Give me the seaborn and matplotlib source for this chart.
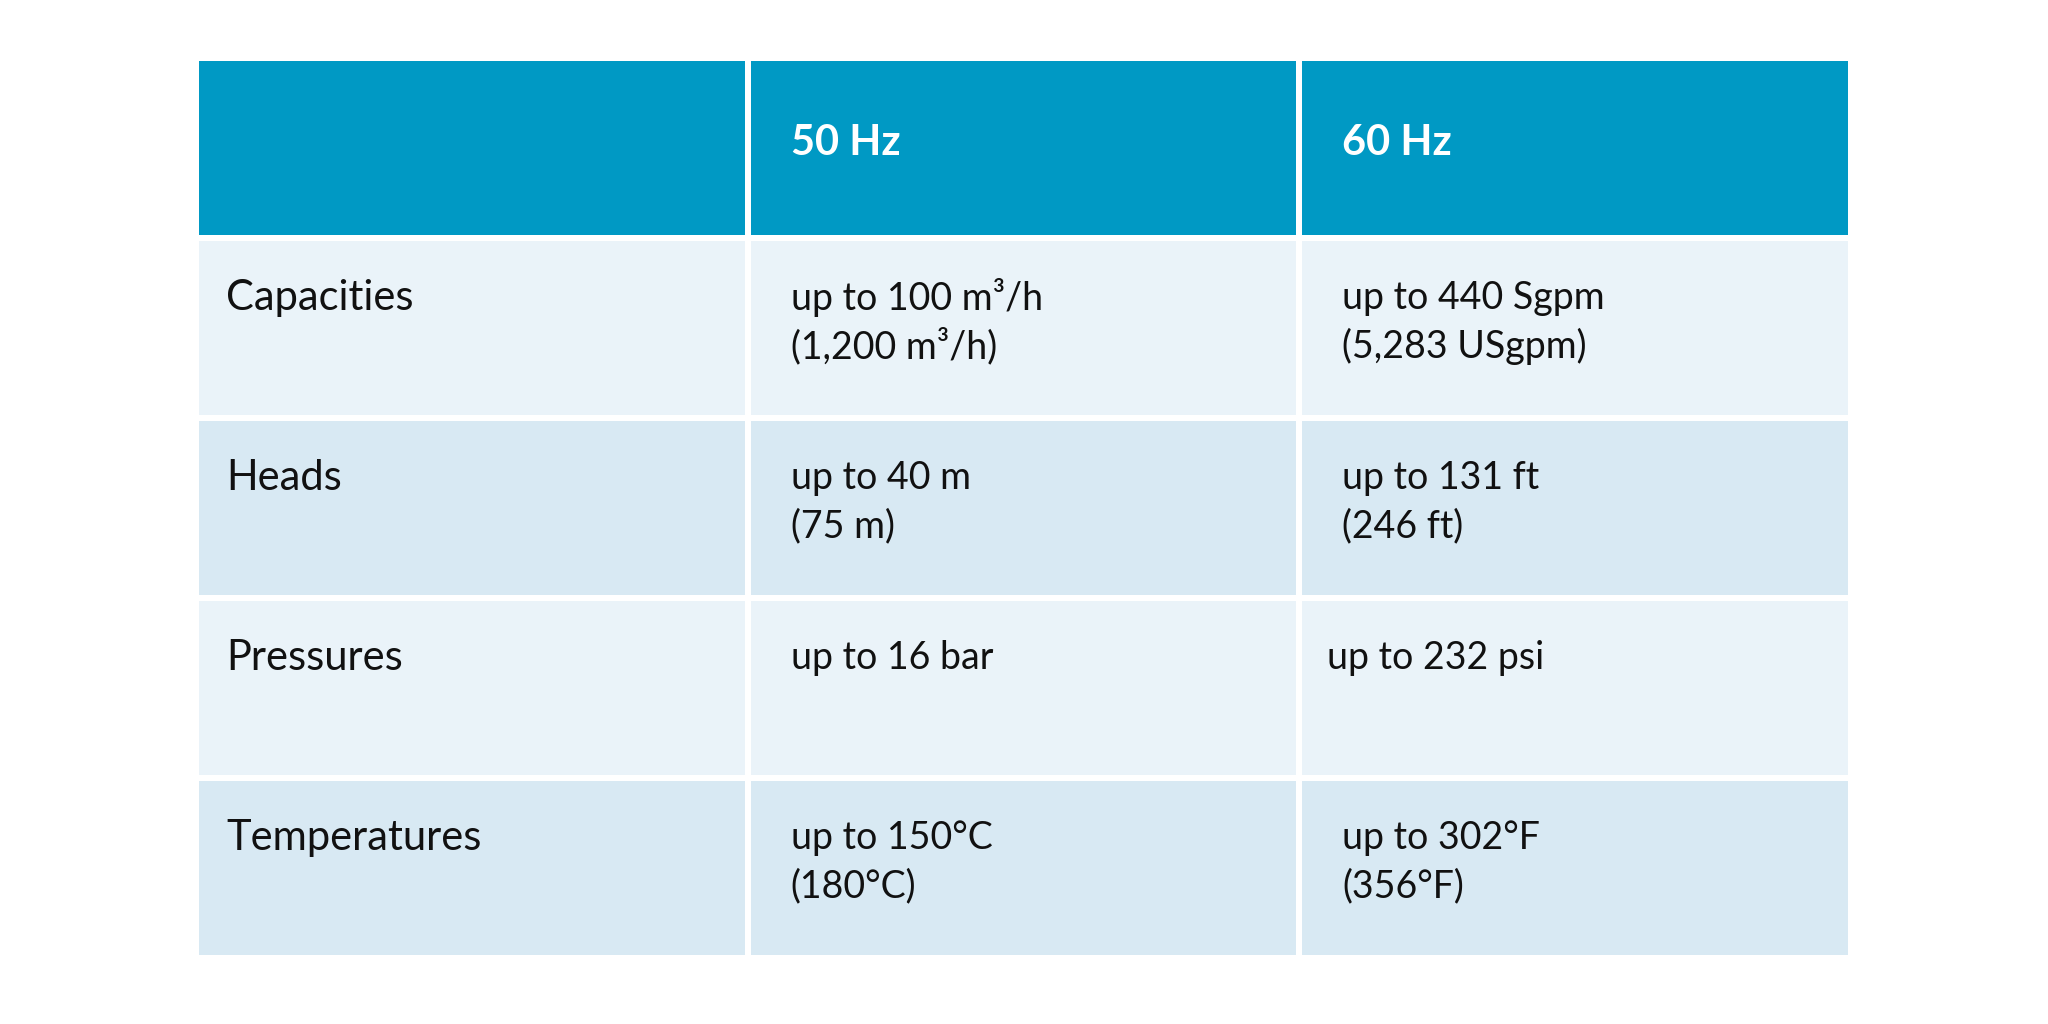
import matplotlib
matplotlib.use("Agg")
import matplotlib.pyplot as plt
import seaborn as sns
import numpy as np
import pandas as pd
from matplotlib.colors import ListedColormap

headers = ["", "50 Hz", "60 Hz"]
row_labels = ["Capacities", "Heads", "Pressures", "Temperatures"]
col_50hz = [["up to 100 m³/h", "(1,200 m³/h)"], ["up to 40 m", "(75 m)"], ["up to 16 bar"], ["up to 150°C", "(180°C)"]]
col_60hz = [["up to 440 Sgpm", "(5,283 USgpm)"], ["up to 131 ft", "(246 ft)"], ["up to 232 psi"], ["up to 302°F", "(356°F)"]]
row_shade = [0, 1, 2, 1, 2]  # 0 header, 1 light, 2 darker

sns.set_theme(style="white")
plt.rcParams['font.family'] = ['Lato', 'DejaVu Sans']

fig = plt.figure(figsize=(20.48, 10.24), dpi=100)
ax = fig.add_axes([0.0957, 0.064, 0.808, 0.879])
grid = pd.DataFrame(np.array([[s] * 3 for s in row_shade]))
cmap = ListedColormap(["#0099C4", "#EAF3F9", "#D8E9F3"])
sns.heatmap(grid, ax=ax, cmap=cmap, vmin=-0.5, vmax=2.5, cbar=False,
            linewidths=3, linecolor="white", xticklabels=False, yticklabels=False)

for j, h in enumerate(headers):
    if h:
        ax.text(j + 0.078, 0.47, h, color="white", fontsize=30, fontweight="bold", va="center", ha="left")
for i, lab in enumerate(row_labels):
    r = i + 1
    ax.text(0.055, r + 0.33, lab, fontsize=30, color="#111111", va="center", ha="left")
    for j, col in ((1, col_50hz), (2, col_60hz)):
        xoff = 0.078 if not (j == 2 and len(col[i]) == 1) else 0.05
        for k, line in enumerate(col[i]):
            ax.text(j + xoff, r + 0.33 + 0.27 * k, line, fontsize=27, color="#111111", va="center", ha="left")

fig.savefig("out.png", dpi=100, facecolor="white")
